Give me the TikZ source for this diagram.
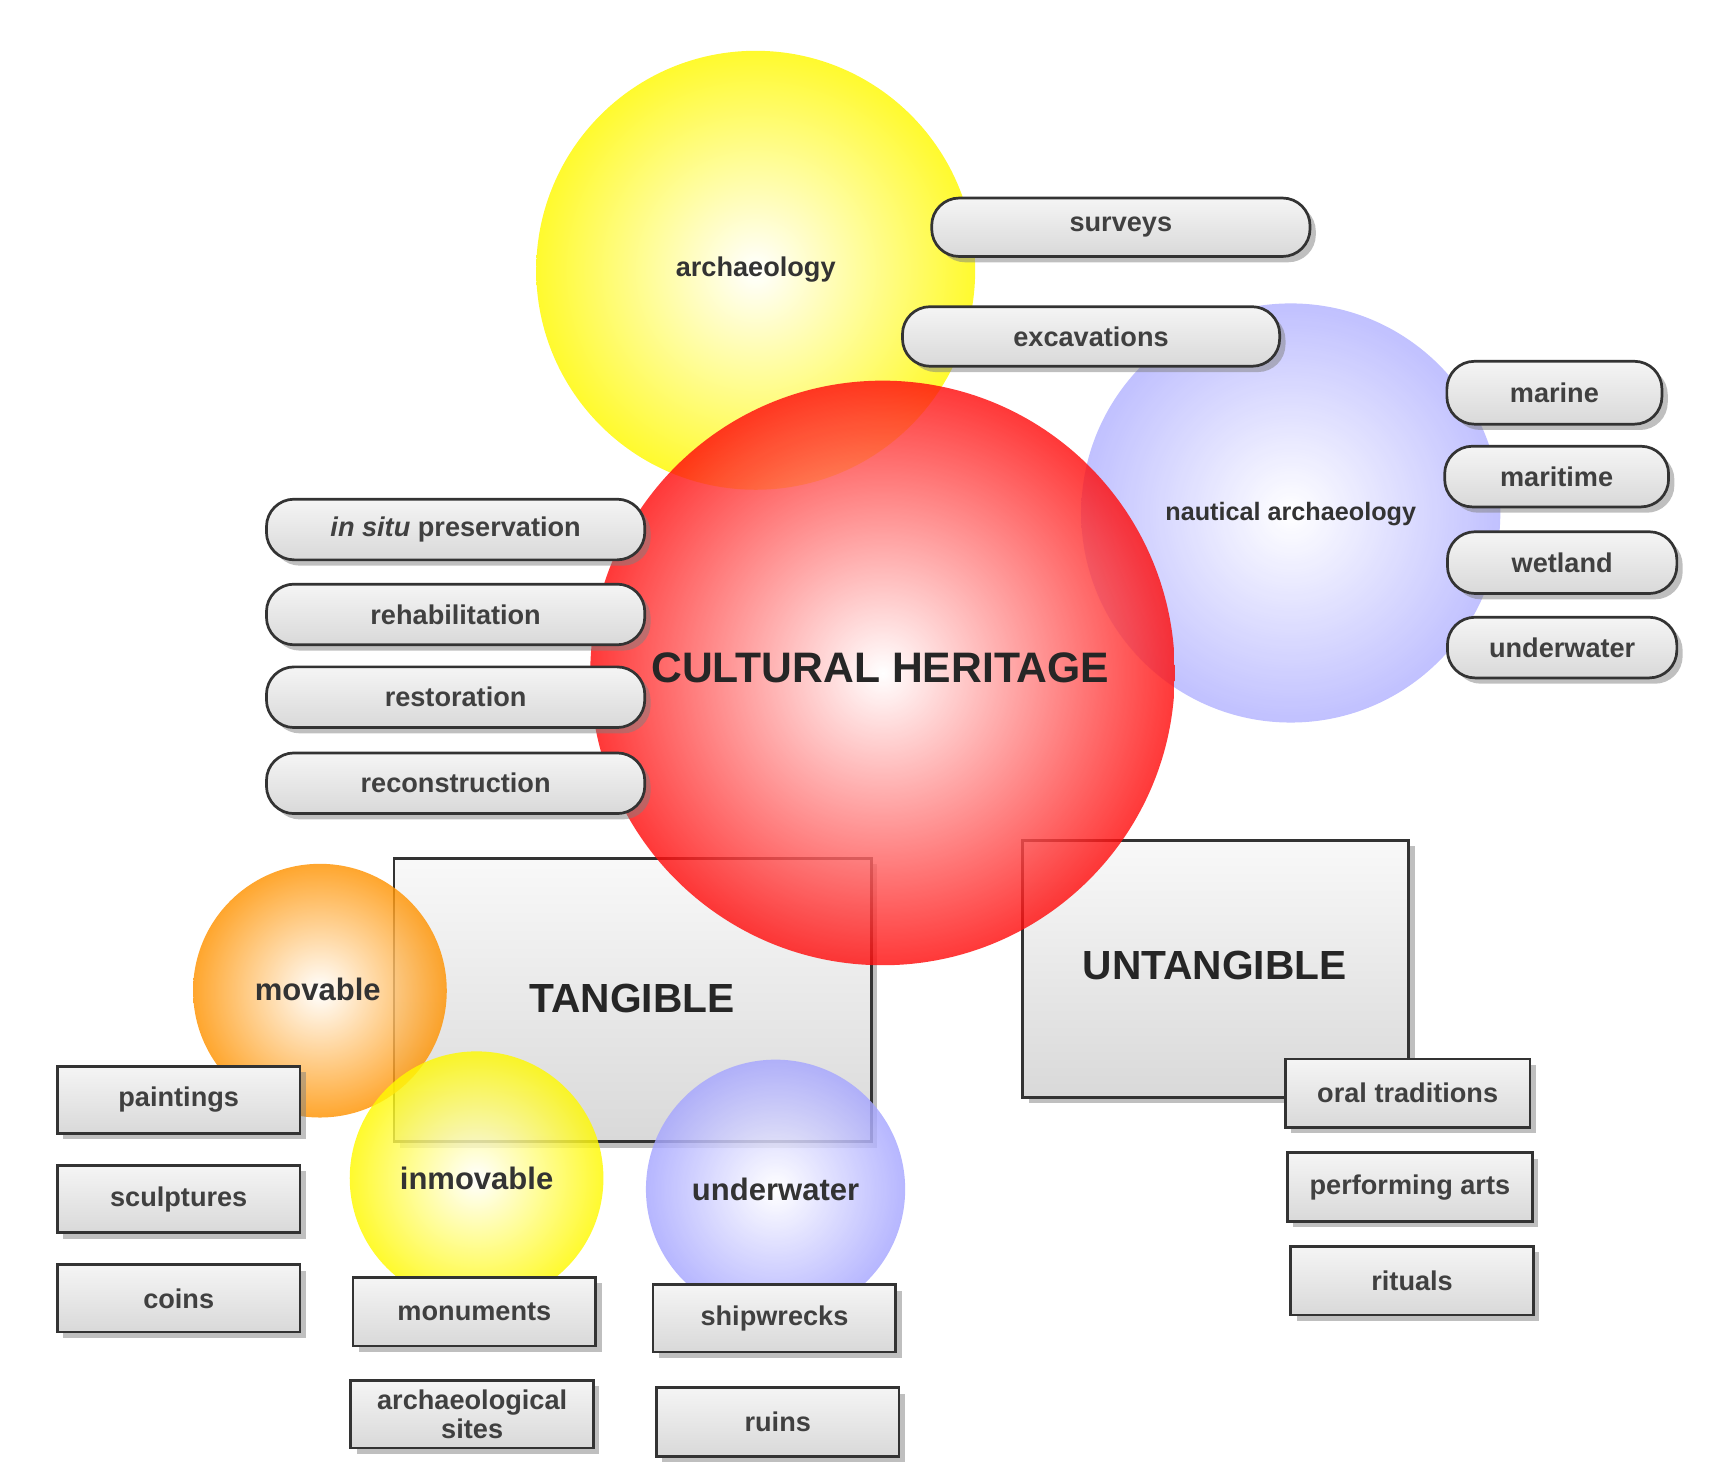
\documentclass[tikz,border=0pt]{standalone}
\usepackage{fontspec}
\setmainfont{Liberation Sans}
\usetikzlibrary{shadows,shapes.geometric}
\begin{document}
\begin{tikzpicture}[x=0.02cm,y=-0.02cm,
  bub/.style={circle,draw=none,shading=radial,inner color=white,fill opacity=0.82},
  rbox/.style={draw=black!80,line width=1.4pt,rounded corners=0.5cm,top color=gray!8,bottom color=gray!30,
     drop shadow={shadow xshift=3pt,shadow yshift=-3pt,opacity=0.5},font=\fontsize{14}{16}\selectfont\bfseries,text=black!75},
  sbox/.style={draw=black!80,line width=1.4pt,top color=gray!8,bottom color=gray!30,
     drop shadow={shadow xshift=3pt,shadow yshift=-3pt,opacity=0.5},font=\fontsize{14}{16}\selectfont\bfseries,text=black!75,align=center},
  big/.style={draw=black!80,line width=1.4pt,top color=gray!5,bottom color=gray!30,
     drop shadow={shadow xshift=3pt,shadow yshift=-3pt,opacity=0.5}},
  lab/.style={font=\fontsize{14}{16}\selectfont\bfseries,text=black!80}]
\useasboundingbox (0,0) rectangle (1560,1337);
% big boxes
\node[big,minimum width=8.66cm,minimum height=5.14cm] (tang) at (573.5,906.5) {};
\node[big,minimum width=7cm,minimum height=4.66cm] (untang) at (1102,878.5) {};
% bubbles
\node[bub,outer color=yellow!95!orange,minimum size=7.96cm] (arch) at (685,245) {};
\node[bub,outer color=blue!30!white,minimum size=7.6cm] (naut) at (1170,465) {};
\node[bub,outer color=red!95!white,minimum size=10.6cm] (ch) at (800,610) {};
\node[bub,outer color=orange!85!yellow,minimum size=4.6cm] (mov) at (290,898) {};
\node[bub,outer color=yellow!95!orange,minimum size=4.6cm] (inm) at (432,1068) {};
\node[bub,outer color=blue!35!white,minimum size=4.7cm] (uw) at (703,1078) {};
% texts
\node[lab] (tarch) at (685,244) {archaeology};
\node[lab,font=\fontsize{13}{15}\selectfont\bfseries] (tnaut) at (1170,466) {nautical archaeology};
\node[font=\fontsize{22}{24}\selectfont\bfseries,text=black!85] (tch) at (798,605) {CULTURAL HERITAGE};
\node[font=\fontsize{21}{23}\selectfont\bfseries,text=black!85] (ttang) at (573,905) {TANGIBLE};
\node[font=\fontsize{21}{23}\selectfont\bfseries,text=black!85] (tuntang) at (1101,875) {UNTANGIBLE};
\node[font=\fontsize{16}{18}\selectfont\bfseries,text=black!80] (tmov) at (288,897) {movable};
\node[font=\fontsize{16}{18}\selectfont\bfseries,text=black!80] (tinm) at (432,1068) {inmovable};
\node[font=\fontsize{16}{18}\selectfont\bfseries,text=black!80] (tuw) at (703,1078) {underwater};
% rounded boxes
\node[rbox,minimum width=6.86cm,minimum height=1.06cm] (surv) at (1016,206) {surveys};
\node[rbox,minimum width=6.84cm,minimum height=1.08cm] (exc) at (989,305) {excavations};
\node[rbox,minimum width=3.9cm,minimum height=1.14cm] (mar) at (1409,356) {marine};
\node[rbox,minimum width=4.06cm,minimum height=1.1cm] (mart) at (1411,432) {maritime};
\node[rbox,minimum width=4.16cm,minimum height=1.12cm] (wet) at (1416,510) {wetland};
\node[rbox,minimum width=4.16cm,minimum height=1.1cm] (uw2) at (1416,587) {underwater};
\node[rbox,minimum width=6.86cm,minimum height=1.1cm] (insitu) at (413,480) {\textit{in situ} preservation};
\node[rbox,minimum width=6.86cm,minimum height=1.1cm] (rehab) at (413,557) {rehabilitation};
\node[rbox,minimum width=6.86cm,minimum height=1.1cm] (rest) at (413,632) {restoration};
\node[rbox,minimum width=6.86cm,minimum height=1.1cm] (recon) at (413,710) {reconstruction};
% square boxes
\node[sbox,minimum width=4.4cm,minimum height=1.22cm] (paint) at (162,997) {paintings};
\node[sbox,minimum width=4.4cm,minimum height=1.22cm] (sculp) at (162,1087) {sculptures};
\node[sbox,minimum width=4.4cm,minimum height=1.22cm] (coins) at (162,1177) {coins};
\node[sbox,minimum width=4.4cm,minimum height=1.24cm] (monu) at (430,1189) {monuments};
\node[sbox,minimum width=4.4cm,minimum height=1.22cm,inner sep=1pt,font=\fontsize{14}{15}\selectfont\bfseries] (asites) at (428,1282) {archaeological\\sites};
\node[sbox,minimum width=4.4cm,minimum height=1.22cm] (ship) at (702,1195) {shipwrecks};
\node[sbox,minimum width=4.4cm,minimum height=1.24cm] (ruins) at (705,1289) {ruins};
\node[sbox,minimum width=4.44cm,minimum height=1.24cm] (oral) at (1276,991) {oral traditions};
\node[sbox,minimum width=4.44cm,minimum height=1.24cm] (perf) at (1278,1076) {performing arts};
\node[sbox,minimum width=4.4cm,minimum height=1.24cm] (rit) at (1280,1161) {rituals};
\end{tikzpicture}
\end{document}
